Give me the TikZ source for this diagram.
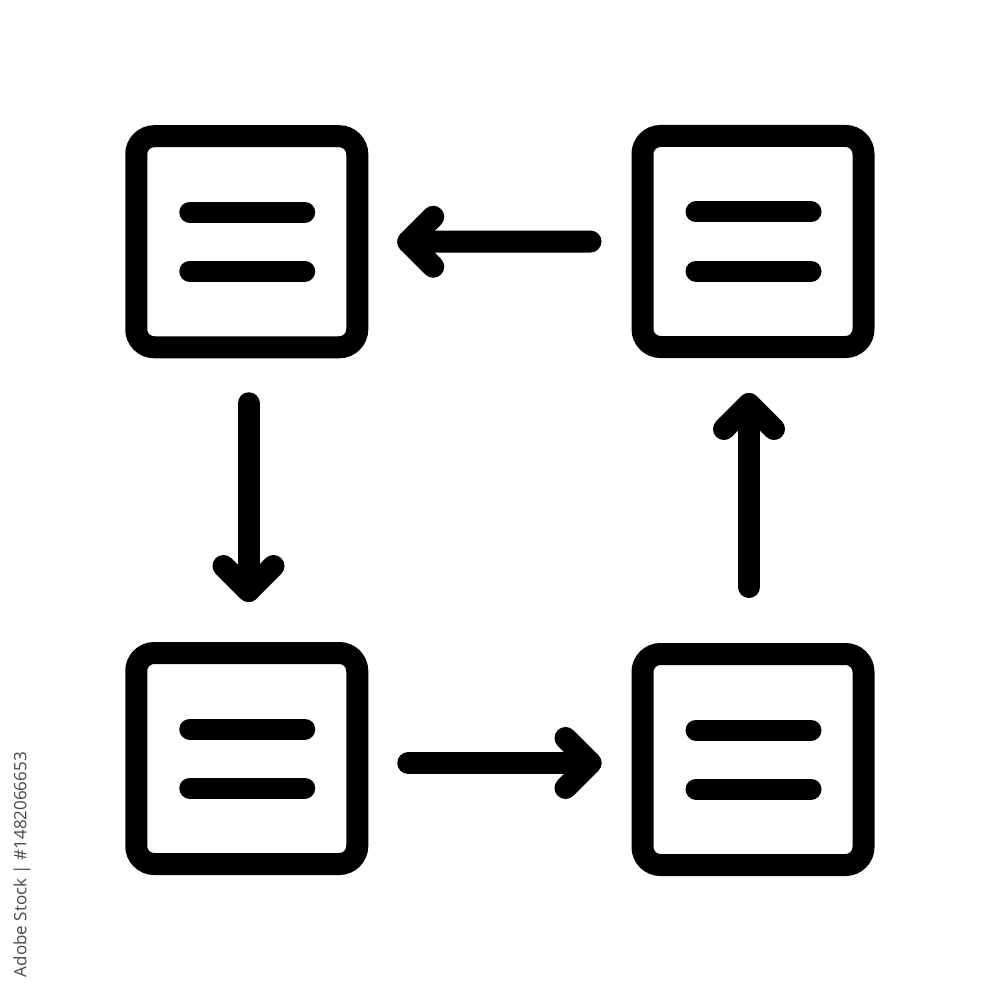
\documentclass[tikz,border=0pt]{standalone}
\usepackage{fontspec}
\setmainfont{Open Sans}
\usetikzlibrary{calc}
\begin{document}
\begin{tikzpicture}[x=1pt,y=-1pt,
  box/.style={draw=black, line width=22pt, rounded corners=18pt,
    minimum width=221pt, minimum height=211pt, inner sep=0pt, outer sep=0pt},
  bar/.style={line width=21pt, line cap=round},
  link/.style={line width=22pt, line cap=round, line join=round},
  wmark/.style={rotate=90, anchor=east, text=black!72, inner sep=0pt,
    font=\fontsize{17}{20}\selectfont}]
\useasboundingbox[fill=white] (0,0) rectangle (1000,1000);

% boxes
\node[box] (a) at (246.75,241.75) {};
\node[box] (b) at (753,241.5) {};
\node[box] (c) at (246.75,758.5) {};
\node[box] (d) at (753,759.5) {};

% bars inside boxes
\foreach \n in {a,b,c,d}{
  \draw[bar] ($(\n)+(-57,-29.5)$) -- ($(\n)+(58,-29.5)$);
  \draw[bar] ($(\n)+(-57,29.5)$) -- ($(\n)+(58,29.5)$);
}

% b -> a (left)
\coordinate (t1) at ($(a.east)+(51,0)$);
\draw[link] ($(b.west)+(-52,0)$) -- (t1);
\draw[link] ($(t1)+(25,-25)$) -- (t1) -- ($(t1)+(25,25)$);

% a -> c (down)
\coordinate (t2) at ($(c.north)+(1.75,-62)$);
\draw[link] ($(a.south)+(1.75,56)$) -- (t2);
\draw[link] ($(t2)+(-25,-25)$) -- (t2) -- ($(t2)+(25,-25)$);

% c -> d (right)
\coordinate (t3) at ($(d.west)+(-52,3.5)$);
\draw[link] ($(c.east)+(51,4.5)$) -- (t3);
\draw[link] ($(t3)+(-25,-25)$) -- (t3) -- ($(t3)+(-25,25)$);

% d -> b (up)
\coordinate (t4) at ($(b.south)+(-4,57)$);
\draw[link] ($(d.north)+(-4,-67)$) -- (t4);
\draw[link] ($(t4)+(-25,25)$) -- (t4) -- ($(t4)+(25,25)$);

% stock id text
\node[wmark] (wm) at (22,752) {Adobe Stock | \#1482066653};
\end{tikzpicture}
\end{document}
